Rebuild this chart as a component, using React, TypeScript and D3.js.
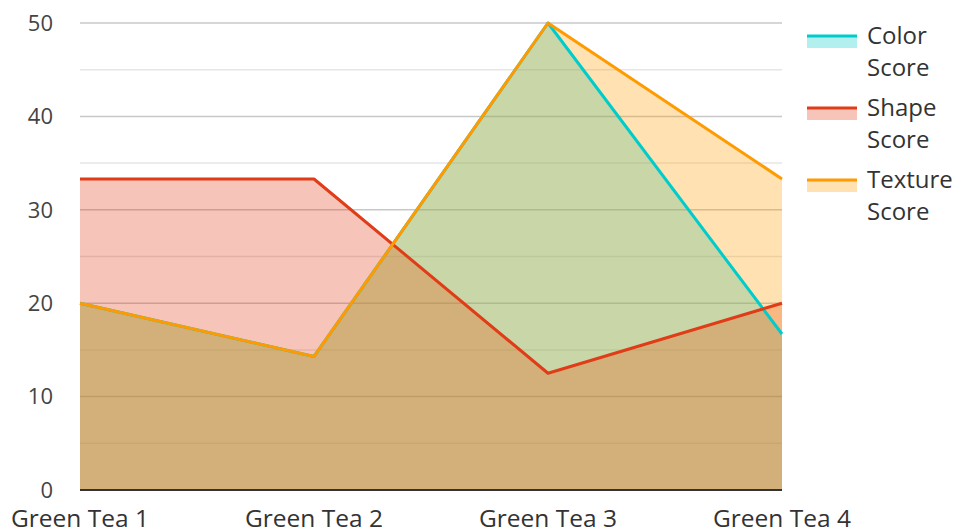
import * as React from 'react';
import * as d3 from 'd3';

const width = 956;
const height = 531;

const categories = ['Green Tea 1', 'Green Tea 2', 'Green Tea 3', 'Green Tea 4'];
const colorScore = [20, 14.3, 50, 16.7];
const shapeScore = [33.3, 33.3, 12.5, 20];
const textureScore = [20, 14.3, 50, 33.3];
const yTicks = [0, 10, 20, 30, 40, 50];
const yMinorTicks = [5, 15, 25, 35, 45];

const series = [
  {name: ['Color', 'Score'], values: colorScore, color: '#00cccc'},
  {name: ['Shape', 'Score'], values: shapeScore, color: '#e03c18'},
  {name: ['Texture', 'Score'], values: textureScore, color: '#ff9a00'},
];

const margin = {left: 80, right: 174, top: 23, bottom: 41};

export default function App() {
  const x = d3.scalePoint<string>()
    .domain(categories)
    .range([margin.left, width - margin.right]);
  const y = d3.scaleLinear()
    .domain([0, 50])
    .range([height - margin.bottom, margin.top]);

  const area = d3.area<number>()
    .x((_, i) => x(categories[i])!)
    .y0(y(0))
    .y1(d => y(d));
  const line = d3.line<number>()
    .x((_, i) => x(categories[i])!)
    .y(d => y(d));

  const font = '"Open Sans", sans-serif';

  return (
    <svg width={width} height={height}
      style={{position: 'absolute', left: 0, top: 0, fontFamily: font}}>
      {yMinorTicks.map(t => (
        <line key={'m' + t} x1={margin.left} x2={width - margin.right}
          y1={y(t)} y2={y(t)} stroke="#e6e6e6" strokeWidth={1.5}/>
      ))}
      {yTicks.slice(1).map(t => (
        <line key={'g' + t} x1={margin.left} x2={width - margin.right}
          y1={y(t)} y2={y(t)} stroke="#c8c8c8" strokeWidth={1.5}/>
      ))}
      {series.map(s => (
        <path key={'a' + s.name[0]} d={area(s.values)!} fill={s.color} fillOpacity={0.3}/>
      ))}
      {series.map(s => (
        <path key={'l' + s.name[0]} d={line(s.values)!} fill="none"
          stroke={s.color} strokeWidth={3} strokeLinejoin="round"/>
      ))}
      <line x1={margin.left} x2={width - margin.right} y1={y(0)} y2={y(0)}
        stroke="#333" strokeWidth={2}/>
      {yTicks.map(t => (
        <text key={'t' + t} x={53} y={y(t)} dy="0.35em" textAnchor="end"
          fontSize={22} fill="#444">{t}</text>
      ))}
      {categories.map(c => (
        <text key={c} x={x(c)} y={527} textAnchor="middle"
          fontSize={24.5} fill="#333">{c}</text>
      ))}
      {series.map((s, i) => {
        const ly = 36 + i * 72;
        return (
          <g key={'lg' + s.name[0]}>
            <rect x={807} y={ly} width={50} height={12} fill={s.color} fillOpacity={0.3}/>
            <line x1={807} x2={857} y1={ly} y2={ly} stroke={s.color} strokeWidth={3}/>
            {s.name.map((n, j) => (
              <text key={n} x={867} y={ly + j * 32} dy="0.35em" fontSize={24} fill="#333">{n}</text>
            ))}
          </g>
        );
      })}
    </svg>
  );
}
